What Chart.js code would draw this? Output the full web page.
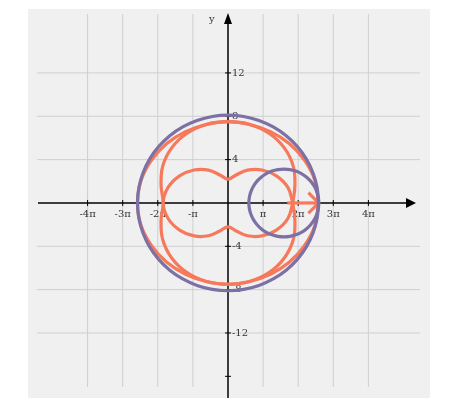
<!DOCTYPE html>
<html>
<head>
<meta charset="utf-8">
<script src="https://cdn.jsdelivr.net/npm/chart.js@4"></script>
<style>
  html, body { margin: 0; padding: 0; background: #fff; }
  #wrap { width: 474px; height: 413px; }
</style>
</head>
<body>
<div id="wrap"><canvas id="curves"></canvas></div>
<script>
// quarter-loop radii, angles in degrees (mirrored to full loops)
const quarterAngles = [0, 15, 30, 45, 60, 75, 90]
const outerLoop = [8.1, 8.05, 7.9, 7.75, 7.6, 7.5, 7.5]
const middleLoop = [5.8, 6.2, 6.75, 7.15, 7.4, 7.5, 7.5]
const innerLoop = [5.8, 5.55, 5.0, 4.3, 3.5, 2.65, 2.2]

// circles: [centerX, centerY, radius]
const bigCircle = [0, 0, 8.1]
const rollingCircle = [5.0, 0, 3.13]

// arrow from rolling circle centre to the pen
const arrowLine = [{x: 5.3, y: 0}, {x: 8.1, y: 0}]
const arrowHead = [{x: 7.2, y: 0.95}, {x: 8.1, y: 0}, {x: 7.2, y: -0.95}]

const xTicks = [-4, -3, -2, -1, 1, 2, 3, 4]
const xTickLabels = ['-4π', '-3π', '-2π', '-π', 'π', '2π', '3π', '4π']
const yTicks = [-12, -8, -4, 4, 8, 12]

function loopPoints(radii) {
  const pts = []
  for (let q = 0; q < 4; q++) {
    for (let i = 0; i < quarterAngles.length - 1; i++) {
      const idx = (q % 2 === 0) ? i : quarterAngles.length - 1 - i
      const a = (q * 90 + quarterAngles[i]) * Math.PI / 180
      const r = radii[idx]
      pts.push({x: r * Math.cos(a), y: r * Math.sin(a)})
    }
  }
  pts.push({...pts[0]})
  return pts
}

function circlePoints(c) {
  const pts = []
  for (let d = 0; d <= 360; d += 10) {
    const a = d * Math.PI / 180
    pts.push({x: c[0] + c[2] * Math.cos(a), y: c[1] + c[2] * Math.sin(a)})
  }
  return pts
}

const purple = '#7c70a4'
const orange = '#f5795a'

const backdrop = {
  id: 'backdrop',
  beforeDatasetsDraw(chart) {
    const {ctx, scales: {x, y}} = chart
    const px = v => x.getPixelForValue(v * Math.PI)
    ctx.save()
    ctx.fillStyle = '#f0f0f0'
    ctx.fillRect(28, 9, 402, 389)
    ctx.strokeStyle = '#cfcfcf'
    ctx.lineWidth = 1
    xTicks.forEach(k => {
      ctx.beginPath(); ctx.moveTo(px(k), 14); ctx.lineTo(px(k), 387); ctx.stroke()
    })
    yTicks.forEach(v => {
      ctx.beginPath(); ctx.moveTo(37, y.getPixelForValue(v)); ctx.lineTo(420, y.getPixelForValue(v)); ctx.stroke()
    })
    const ox = x.getPixelForValue(0), oy = y.getPixelForValue(0)
    ctx.strokeStyle = '#000'
    ctx.fillStyle = '#000'
    ctx.lineWidth = 1.5
    ctx.beginPath(); ctx.moveTo(38, oy); ctx.lineTo(410, oy); ctx.stroke()
    ctx.beginPath(); ctx.moveTo(ox, 398); ctx.lineTo(ox, 20); ctx.stroke()
    ctx.beginPath(); ctx.moveTo(416, oy); ctx.lineTo(406, oy - 5); ctx.lineTo(406, oy + 5); ctx.fill()
    ctx.beginPath(); ctx.moveTo(ox, 13); ctx.lineTo(ox - 4, 24); ctx.lineTo(ox + 4, 24); ctx.fill()
    ctx.lineWidth = 1
    ctx.font = '10px "DejaVu Serif", serif'
    ctx.fillStyle = '#333'
    ctx.textAlign = 'center'
    ctx.textBaseline = 'top'
    xTicks.forEach((k, i) => {
      ctx.beginPath(); ctx.moveTo(px(k), oy - 3); ctx.lineTo(px(k), oy + 3); ctx.stroke()
      ctx.fillText(xTickLabels[i], px(k), oy + 6)
    })
    ctx.textAlign = 'left'
    ctx.textBaseline = 'middle'
    yTicks.forEach(v => {
      const py = y.getPixelForValue(v)
      ctx.beginPath(); ctx.moveTo(ox - 3, py); ctx.lineTo(ox + 3, py); ctx.stroke()
      ctx.fillText(String(v), ox + 4, py)
    })
    ctx.beginPath(); ctx.moveTo(ox - 3, y.getPixelForValue(-16)); ctx.lineTo(ox + 3, y.getPixelForValue(-16)); ctx.stroke()
    ctx.fillText('y', ox - 19, 19)
    ctx.restore()
  }
}

const line = (data, color, tension) => ({
  data, borderColor: color, borderWidth: 3.2, pointRadius: 0, tension, fill: false
})

new Chart(document.getElementById('curves'), {
  type: 'scatter',
  data: {
    datasets: [
      line(circlePoints(bigCircle), purple, 0.4),
      line(circlePoints(rollingCircle), purple, 0.4),
      line(loopPoints(outerLoop), orange, 0.4),
      line(loopPoints(middleLoop), orange, 0.4),
      line(loopPoints(innerLoop), orange, 0.4),
      line(arrowLine, orange, 0),
      line(arrowHead, orange, 0),
    ].map(d => ({...d, showLine: true}))
  },
  options: {
    responsive: true,
    maintainAspectRatio: false,
    animation: false,
    layout: {padding: {left: 28, right: 44, top: 9, bottom: 15}},
    plugins: {legend: {display: false}, tooltip: {enabled: false}},
    scales: {
      x: {type: 'linear', min: -17.9, max: 18.08, display: false},
      y: {type: 'linear', min: -18.0, max: 17.9, display: false},
    },
  },
  plugins: [backdrop],
})
</script>
</body>
</html>
